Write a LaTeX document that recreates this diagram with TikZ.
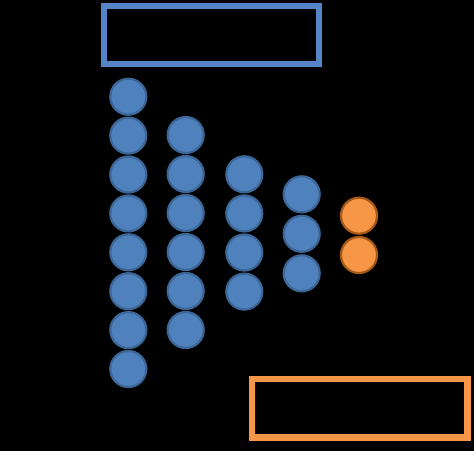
\documentclass[tikz,border=0pt]{standalone}
\usepackage{tikz}

\definecolor{ballblue}{HTML}{4F81BD}
\definecolor{ballblueedge}{HTML}{3C6696}
\definecolor{ballorange}{HTML}{F79646}
\definecolor{ballorangeedge}{HTML}{A65A16}
\definecolor{boxblue}{HTML}{5585C6}

\tikzset{
    blueball/.style={circle, draw=ballblueedge, fill=ballblue, line width=2.2pt, minimum size=36pt, inner sep=0pt},
    orangeball/.style={circle, draw=ballorangeedge, fill=ballorange, line width=2.2pt, minimum size=36pt, inner sep=0pt},
    framebox/.style={draw, line width=6.5pt, inner sep=0pt}
}

\begin{document}
\begin{tikzpicture}[x=1pt, y=-1pt]
    % Background
    \fill[black] (0, 0) rectangle (474, 451);
    \useasboundingbox (0, 0) rectangle (474, 451);

    % Top box
    \node[framebox, draw=boxblue, minimum width=215pt, minimum height=58pt] (topbox) at (211.5, 35) {};

    % Blue columns
    \foreach \i in {1,...,8}
        \node[blueball] (a\i) at (128.3, 96.7 + 38.9*\i - 38.9) {};
    \foreach \i in {1,...,6}
        \node[blueball] (b\i) at (185.7, 135 + 39*\i - 39) {};
    \foreach \i in {1,...,4}
        \node[blueball] (c\i) at (244.3, 174.3 + 39.1*\i - 39.1) {};
    \foreach \i in {1,...,3}
        \node[blueball] (d\i) at (301.7, 194.3 + 39.5*\i - 39.5) {};

    % Orange column
    \node[orangeball] (e1) at (359, 215.7) {};
    \node[orangeball] (e2) at (359, 255) {};

    % Bottom box
    \node[framebox, draw=ballorange, minimum width=215.5pt, minimum height=58.5pt] (bottombox) at (359.75, 408.25) {};
\end{tikzpicture}
\end{document}
